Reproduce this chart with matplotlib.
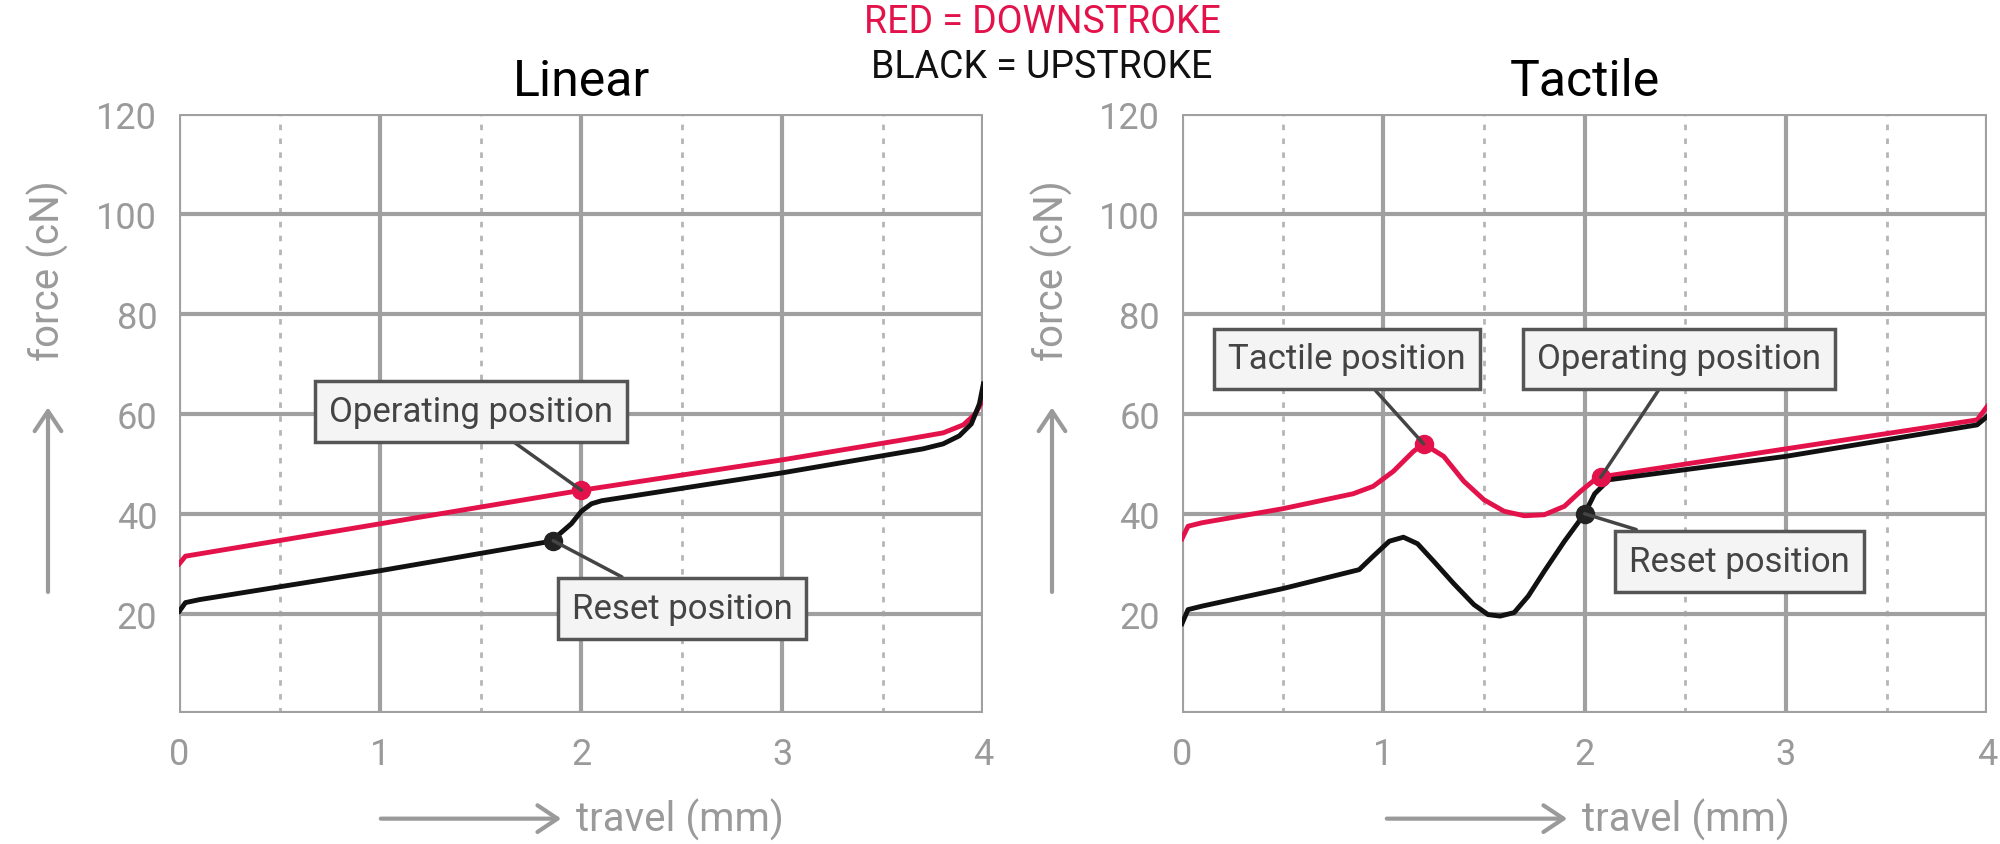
import matplotlib
matplotlib.use("Agg")
import matplotlib.pyplot as plt

plt.rcParams["font.family"] = "Roboto"

# ---- data ----
lin_down_x = [0.0, 0.03, 1.0, 2.0, 3.0, 3.6, 3.8, 3.9, 3.96, 4.0]
lin_down_y = [30.0, 31.5, 38.0, 44.7, 50.8, 54.8, 56.2, 57.8, 60.0, 63.0]
lin_up_x = [0.0, 0.03, 0.1, 1.0, 1.85, 1.95, 2.0, 2.05, 2.1, 3.0, 3.7, 3.8, 3.88, 3.94, 3.98, 4.0]
lin_up_y = [20.5, 22.2, 22.8, 28.6, 34.5, 38.0, 40.5, 42.0, 42.6, 48.2, 53.0, 54.0, 55.6, 58.0, 62.0, 66.0]

tac_down_x = [0.0, 0.03, 0.1, 0.5, 0.85, 0.95, 1.05, 1.15, 1.2, 1.3, 1.4, 1.5, 1.6, 1.7, 1.8, 1.9, 1.98, 2.05, 2.1, 3.0, 3.95, 4.0]
tac_down_y = [35.0, 37.5, 38.2, 41.0, 44.0, 45.5, 48.5, 52.5, 54.0, 51.5, 46.5, 42.8, 40.5, 39.6, 39.8, 41.5, 44.5, 46.8, 47.5, 53.0, 58.8, 61.5]
tac_up_x = [0.0, 0.03, 0.1, 0.5, 0.88, 0.95, 1.03, 1.1, 1.17, 1.25, 1.35, 1.45, 1.52, 1.58, 1.65, 1.72, 1.8, 1.9, 2.0, 2.05, 2.12, 3.0, 3.95, 4.0]
tac_up_y = [18.0, 20.8, 21.5, 25.0, 28.8, 31.5, 34.5, 35.3, 34.0, 30.5, 26.0, 21.8, 19.8, 19.5, 20.2, 23.5, 28.5, 34.5, 40.0, 44.0, 46.8, 51.5, 57.8, 59.5]

x_ticks = [0, 1, 2, 3, 4]
y_ticks = [20, 40, 60, 80, 100, 120]

RED = "#e3124b"
BLACK = "#111111"
GRID = "#a0a0a0"
TXT = "#9a9a9a"
BOX = "#444444"

fig = plt.figure(figsize=(20, 8.45), dpi=100)
ax1 = fig.add_axes([0.0897, 0.1545, 0.402, 0.709])
ax2 = fig.add_axes([0.591, 0.1545, 0.4026, 0.709])

def style(ax, title):
    ax.set_xlim(0, 4)
    ax.set_ylim(0, 120)
    for s in ax.spines.values():
        s.set_visible(False)
    for v in [0.5, 1.5, 2.5, 3.5]:
        ax.axvline(v, color="#b5b5b5", lw=2, ls=(0, (2, 3)), zorder=0)
    for v in x_ticks:
        ax.axvline(v, color=GRID, lw=3, zorder=0)
    for v in [0] + y_ticks:
        ax.axhline(v, color=GRID, lw=3, zorder=0)
    ax.set_xticks(x_ticks)
    ax.set_yticks(y_ticks)
    ax.tick_params(length=0, labelsize=26, labelcolor=TXT, pad=16)
    ax.set_title(title, fontsize=36, pad=14)

def box(ax, text, xy, xt, yt):
    ax.annotate(text, xy=xy, xytext=(xt, yt), fontsize=25, color=BOX, ha="center", va="center",
                bbox=dict(boxstyle="square,pad=0.4", fc="#f4f4f4", ec="#555555", lw=2.5),
                arrowprops=dict(arrowstyle="-", color="#444444", lw=2.5, shrinkA=0, shrinkB=0), zorder=5)

style(ax1, "Linear")
style(ax2, "Tactile")

ax1.plot(lin_down_x, lin_down_y, color=RED, lw=3.5, zorder=3)
ax1.plot(lin_up_x, lin_up_y, color=BLACK, lw=3.5, zorder=3)
ax1.plot([2.0], [44.7], "o", color=RED, ms=13, zorder=4)
ax1.plot([1.86], [34.6], "o", color="#222222", ms=13, zorder=4)
box(ax1, "Operating position", (2.0, 44.7), 1.45, 60.5)
box(ax1, "Reset position", (1.86, 34.6), 2.5, 21.0)

ax2.plot(tac_down_x, tac_down_y, color=RED, lw=3.5, zorder=3)
ax2.plot(tac_up_x, tac_up_y, color=BLACK, lw=3.5, zorder=3)
ax2.plot([1.2], [54.0], "o", color=RED, ms=13, zorder=4)
ax2.plot([2.08], [47.3], "o", color=RED, ms=13, zorder=4)
ax2.plot([2.0], [40.0], "o", color="#222222", ms=13, zorder=4)
box(ax2, "Tactile position", (1.2, 54.0), 0.82, 71.0)
box(ax2, "Operating position", (2.08, 47.3), 2.47, 71.0)
box(ax2, "Reset position", (2.0, 40.0), 2.77, 30.5)

fig.text(0.521, 0.973, "RED = DOWNSTROKE", color=RED, fontsize=27, ha="center", va="center")
fig.text(0.521, 0.92, "BLACK = UPSTROKE", color=BLACK, fontsize=27, ha="center", va="center")

for x0 in [0.024, 0.526]:
    fig.text(x0, 0.68, "force (cN)", rotation=90, color=TXT, fontsize=29, ha="center", va="center")
    fig.add_artist(matplotlib.patches.FancyArrowPatch((x0, 0.295), (x0, 0.52), transform=fig.transFigure,
                   arrowstyle="->,head_length=0.6,head_width=0.4", color=TXT, lw=3, mutation_scale=24))
for x0 in [0.189, 0.692]:
    fig.add_artist(matplotlib.patches.FancyArrowPatch((x0, 0.03), (x0 + 0.093, 0.03), transform=fig.transFigure,
                   arrowstyle="->,head_length=0.6,head_width=0.4", color=TXT, lw=3, mutation_scale=24))
    fig.text(x0 + 0.099, 0.03, "travel (mm)", color=TXT, fontsize=29, ha="left", va="center")

fig.savefig("out.png", dpi=100)
